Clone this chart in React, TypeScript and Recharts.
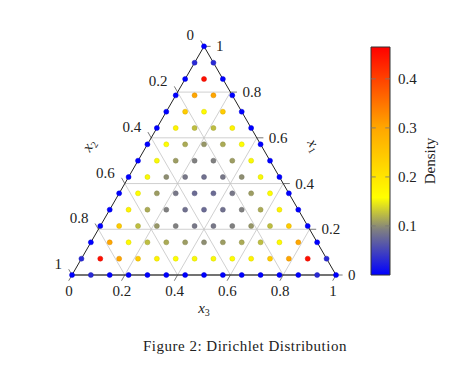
import { ScatterChart, Scatter, XAxis, YAxis, ReferenceLine, ReferenceArea } from 'recharts';

const H = Math.sqrt(3) / 2;
const GRID_N = 14;
const FONT = '"Liberation Serif", "Times New Roman", serif';

// density on the 14-step ternary grid, one row per x1 level, top vertex (x1 = 1) first
const row00 = [0];
const row01 = [0.03, 0.03];
const row02 = [0, 0.45, 0];
const row03 = [0, 0.3, 0.3, 0];
const row04 = [0, 0.24, 0.165, 0.24, 0];
const row05 = [0, 0.175, 0.125, 0.125, 0.175, 0];
const row06 = [0, 0.16, 0.115, 0.105, 0.115, 0.16, 0];
const row07 = [0, 0.155, 0.108, 0.093, 0.093, 0.108, 0.155, 0];
const row08 = [0, 0.155, 0.1, 0.087, 0.082, 0.087, 0.1, 0.155, 0];
const row09 = [0, 0.16, 0.108, 0.087, 0.078, 0.078, 0.087, 0.108, 0.16, 0];
const row10 = [0, 0.175, 0.115, 0.093, 0.082, 0.078, 0.082, 0.093, 0.115, 0.175, 0];
const row11 = [0, 0.24, 0.125, 0.105, 0.093, 0.087, 0.087, 0.093, 0.105, 0.125, 0.24, 0];
const row12 = [0, 0.3, 0.165, 0.125, 0.115, 0.108, 0.1, 0.108, 0.115, 0.125, 0.165, 0.3, 0];
const row13 = [0.03, 0.45, 0.3, 0.24, 0.175, 0.16, 0.155, 0.155, 0.16, 0.175, 0.24, 0.3, 0.45, 0.03];
const row14 = [0, 0.03, 0, 0, 0, 0, 0, 0, 0, 0, 0, 0, 0, 0.03, 0];
const densityRows = [row00, row01, row02, row03, row04, row05, row06, row07, row08, row09, row10, row11, row12, row13, row14];

const gridLevels = [0.2, 0.4, 0.6, 0.8];
const tickValues = [0, 0.2, 0.4, 0.6, 0.8, 1];
const tickLabels = ['0', '0.2', '0.4', '0.6', '0.8', '1'];
const colorbarTicks = [0.1, 0.2, 0.3, 0.4];
const densityMax = 0.465;
const caption = 'Figure 2: Dirichlet Distribution';

// colormap: blue -> gray -> yellow -> orange -> red
const cmapStops: [number, number[]][] = [
  [0, [0, 0, 255]],
  [0.2, [128, 128, 128]],
  [0.34, [255, 255, 0]],
  [0.65, [255, 165, 0]],
  [1, [255, 0, 0]],
];

const colorFor = (d: number, shade = 1) => {
  const t = Math.max(0, Math.min(1, d / densityMax));
  let i = 0;
  while (i < cmapStops.length - 2 && t > cmapStops[i + 1][0]) i++;
  const [t0, c0] = cmapStops[i];
  const [t1, c1] = cmapStops[i + 1];
  const f = (t - t0) / (t1 - t0);
  const c = c0.map((v, k) => Math.round((v + (c1[k] - v) * f) * shade));
  return `rgb(${c[0]},${c[1]},${c[2]})`;
};

const points = densityRows.flatMap((row, r) =>
  row.map((d, j) => ({
    x: (GRID_N - r) / (2 * GRID_N) + j / GRID_N,
    y: ((GRID_N - r) / GRID_N) * H,
    d,
  }))
);

// pixel layout of the triangle
const W = 474;
const HT = 369;
const PX = 264;
const X0 = 72;
const Y0 = 275;
const xDomain = [-X0 / PX, (W - X0) / PX];
const yDomain = [-(HT - Y0) / PX, Y0 / PX];

const rightTicks = tickValues.map((v, i) => ({ x: 1 - v / 2, y: v * H, label: tickLabels[i] }));
const leftTicks = tickValues.map((v, i) => ({ x: (1 - v) / 2, y: (1 - v) * H, label: tickLabels[i] }));
const bottomTicks = tickValues.map((v, i) => ({ x: v, y: 0, label: tickLabels[i] }));

const textStyle = { fontFamily: FONT, fontSize: 15, fill: '#222' };
const gridStroke = '#c4c4c4';

const Dot = (p: any) => (
  <circle cx={p.cx} cy={p.cy} r={2.5} fill={colorFor(p.payload.d)} stroke={colorFor(p.payload.d, 0.85)} strokeWidth={0.5} />
);

const AxisTitle = ({ cx, cy, sub, dx, dy, rot }: any) => (
  <text
    x={cx + dx}
    y={cy + dy}
    transform={`rotate(${rot} ${cx + dx} ${cy + dy})`}
    textAnchor="middle"
    style={{ fontFamily: FONT, fontSize: 15, fill: '#222' }}
  >
    <tspan fontStyle="italic">x</tspan>
    <tspan fontSize={10} dy={3}>{sub}</tspan>
  </text>
);

const Nothing = () => <g />;

export default function App() {
  return (
    <div style={{ position: 'absolute', left: 0, top: 0, width: W, height: HT, background: '#fff' }}>
      <ScatterChart width={W} height={HT} margin={{ top: 0, right: 0, bottom: 0, left: 0 }}>
        <XAxis type="number" dataKey="x" domain={xDomain} hide />
        <YAxis type="number" dataKey="y" domain={yDomain} hide />
        {gridLevels.map((l) => (
          <ReferenceLine key={`h${l}`} segment={[{ x: l / 2, y: l * H }, { x: 1 - l / 2, y: l * H }]} stroke={gridStroke} strokeWidth={0.8} />
        ))}
        {gridLevels.map((l) => (
          <ReferenceLine key={`r${l}`} segment={[{ x: l, y: 0 }, { x: l / 2, y: l * H }]} stroke={gridStroke} strokeWidth={0.8} />
        ))}
        {gridLevels.map((l) => (
          <ReferenceLine key={`l${l}`} segment={[{ x: l, y: 0 }, { x: (1 + l) / 2, y: (1 - l) * H }]} stroke={gridStroke} strokeWidth={0.8} />
        ))}
        {rightTicks.map((t) => (
          <ReferenceLine key={`rt${t.label}`} segment={[{ x: t.x, y: t.y }, { x: t.x + 0.025, y: t.y }]} stroke="#555" strokeWidth={0.8} />
        ))}
        {leftTicks.map((t) => (
          <ReferenceLine key={`lt${t.label}`} segment={[{ x: t.x, y: t.y }, { x: t.x - 0.0125, y: t.y + 0.0217 }]} stroke="#555" strokeWidth={0.8} />
        ))}
        {bottomTicks.map((t) => (
          <ReferenceLine key={`bt${t.label}`} segment={[{ x: t.x, y: t.y }, { x: t.x - 0.0125, y: t.y - 0.0217 }]} stroke="#555" strokeWidth={0.8} />
        ))}
        <ReferenceLine segment={[{ x: 0, y: 0 }, { x: 0.5, y: H }]} stroke="#222" strokeWidth={1} />
        <ReferenceLine segment={[{ x: 0.5, y: H }, { x: 1, y: 0 }]} stroke="#222" strokeWidth={1} />
        <ReferenceLine segment={[{ x: 0, y: 0 }, { x: 1, y: 0 }]} stroke="#444" strokeWidth={1.6} />
        <Scatter data={points} isAnimationActive={false} shape={Dot} />
        <Scatter
          data={rightTicks}
          isAnimationActive={false}
          shape={(p: any) => (
            <text x={p.cx + 12} y={p.cy + 5} textAnchor="start" style={textStyle}>{p.payload.label}</text>
          )}
        />
        <Scatter
          data={leftTicks}
          isAnimationActive={false}
          shape={(p: any) => (
            <text x={p.cx - 10} y={p.cy - 6} textAnchor="end" style={textStyle}>{p.payload.label}</text>
          )}
        />
        <Scatter
          data={bottomTicks}
          isAnimationActive={false}
          shape={(p: any) => (
            <text x={p.cx - 3} y={p.cy + 21} textAnchor="middle" style={textStyle}>{p.payload.label}</text>
          )}
        />
        <Scatter
          data={[{ x: 0.5, y: 0 }]}
          isAnimationActive={false}
          shape={(p: any) => <AxisTitle cx={p.cx} cy={p.cy} sub="3" dx={0} dy={38} rot={0} />}
        />
        <Scatter
          data={[{ x: 0.25, y: H / 2 }]}
          isAnimationActive={false}
          shape={(p: any) => <AxisTitle cx={p.cx} cy={p.cy} sub="2" dx={-45} dy={-13} rot={-60} />}
        />
        <Scatter
          data={[{ x: 0.75, y: H / 2 }]}
          isAnimationActive={false}
          shape={(p: any) => <AxisTitle cx={p.cx} cy={p.cy} sub="1" dx={40} dy={-13} rot={60} />}
        />
      </ScatterChart>

      <div style={{ position: 'absolute', left: 340, top: 0 }}>
        <ScatterChart width={134} height={HT} margin={{ top: 47, right: 4, bottom: 94, left: 31 }}>
          <defs>
            <linearGradient id="cbar" x1="0" y1="1" x2="0" y2="0">
              {cmapStops.map(([t, c]) => (
                <stop key={t} offset={t} stopColor={`rgb(${c[0]},${c[1]},${c[2]})`} />
              ))}
            </linearGradient>
          </defs>
          <XAxis type="number" dataKey="x" domain={[0, 1]} hide />
          <YAxis
            type="number"
            dataKey="y"
            orientation="right"
            domain={[0, densityMax]}
            ticks={colorbarTicks}
            axisLine={false}
            tickLine={false}
            width={80}
            tick={{ fontFamily: FONT, fontSize: 15, fill: '#222' }}
            label={{ value: 'Density', angle: -90, position: 'center', style: { fontFamily: FONT, fontSize: 15, fill: '#222' } }}
          />
          <ReferenceArea x1={0} x2={1} y1={0} y2={densityMax} fill="url(#cbar)" fillOpacity={1} stroke="#333" strokeWidth={1} />
          {colorbarTicks.map((v) => (
            <ReferenceLine key={`cl${v}`} segment={[{ x: 0, y: v }, { x: 0.25, y: v }]} stroke="#777" strokeWidth={0.8} />
          ))}
          {colorbarTicks.map((v) => (
            <ReferenceLine key={`cr${v}`} segment={[{ x: 0.75, y: v }, { x: 1, y: v }]} stroke="#777" strokeWidth={0.8} />
          ))}
          <Scatter data={[{ x: 0.5, y: 0 }]} isAnimationActive={false} shape={Nothing} />
        </ScatterChart>
      </div>

      <div style={{ position: 'absolute', left: 143, top: 338, fontFamily: FONT, fontSize: 15, letterSpacing: 0.5, color: '#222', whiteSpace: 'nowrap' }}>
        {caption}
      </div>
    </div>
  );
}
